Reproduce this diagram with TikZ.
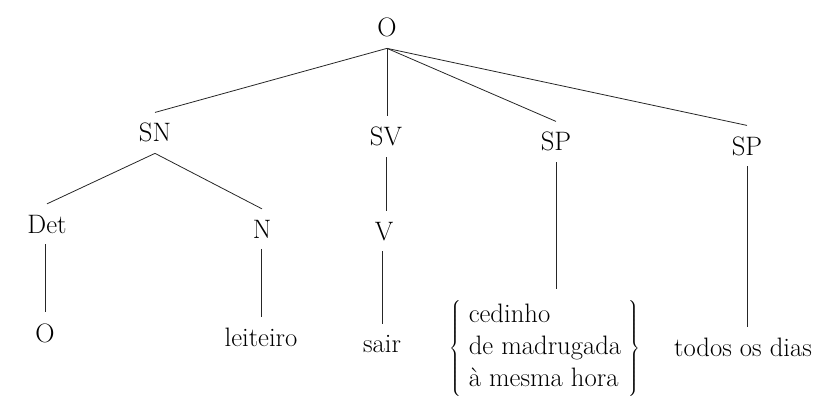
\documentclass[tikz,border=0pt]{standalone}
\usepackage{fontspec}
\begin{document}
\begin{tikzpicture}[x=0.75pt,y=-0.75pt,
  lbl/.style={anchor=base,inner xsep=1pt,inner ysep=8pt,font=\fontsize{20}{24}\selectfont},
  edge/.style={line width=0.6pt,black!85}]
\useasboundingbox (0,0) rectangle (823,417);
\node[lbl] (root) at (387,37) {O};
\node[lbl] (sn) at (155,142) {SN};
\node[lbl] (sv) at (386,146) {SV};
\node[lbl] (spa) at (556,151) {SP};
\node[lbl] (spb) at (747,155) {SP};
\node[lbl] (det) at (47,233) {Det};
\node[lbl] (n) at (262,238) {N};
\node[lbl] (v) at (384,240) {V};
\node[lbl] (o) at (45,342) {O};
\node[lbl] (leit) at (261,346) {leiteiro};
\node[lbl] (sair) at (382,352) {sair};
\node[lbl,inner ysep=2pt] (grp) at (545,355) {$\left\{\;\begin{array}{@{}l@{}}\mbox{cedinho}\\\mbox{de madrugada}\\\mbox{à mesma hora}\end{array}\;\right\}$};
\node[lbl] (todos) at (743,356) {todos os dias};
\coordinate (gtop) at ([yshift=6pt]grp.north);
\draw[edge] (root.south) -- (sn.north);
\draw[edge] (root.south) -- (root.south |- sv.north);
\draw[edge] (root.south) -- (spa.north);
\draw[edge] (root.south) -- (spb.north);
\draw[edge] (sn.south) -- (det.north);
\draw[edge] (sn.south) -- (n.north);
\draw[edge] (sv.south) -- (sv.south |- v.north);
\draw[edge] (spa.south) -- (spa.south |- gtop);
\draw[edge] (spb.south) -- (spb.south |- todos.north);
\draw[edge] (det.south -| o.north) -- (o.north);
\draw[edge] (n.south -| leit.north) -- (leit.north);
\draw[edge] (v.south -| sair.north) -- (sair.north);
\end{tikzpicture}
\end{document}
